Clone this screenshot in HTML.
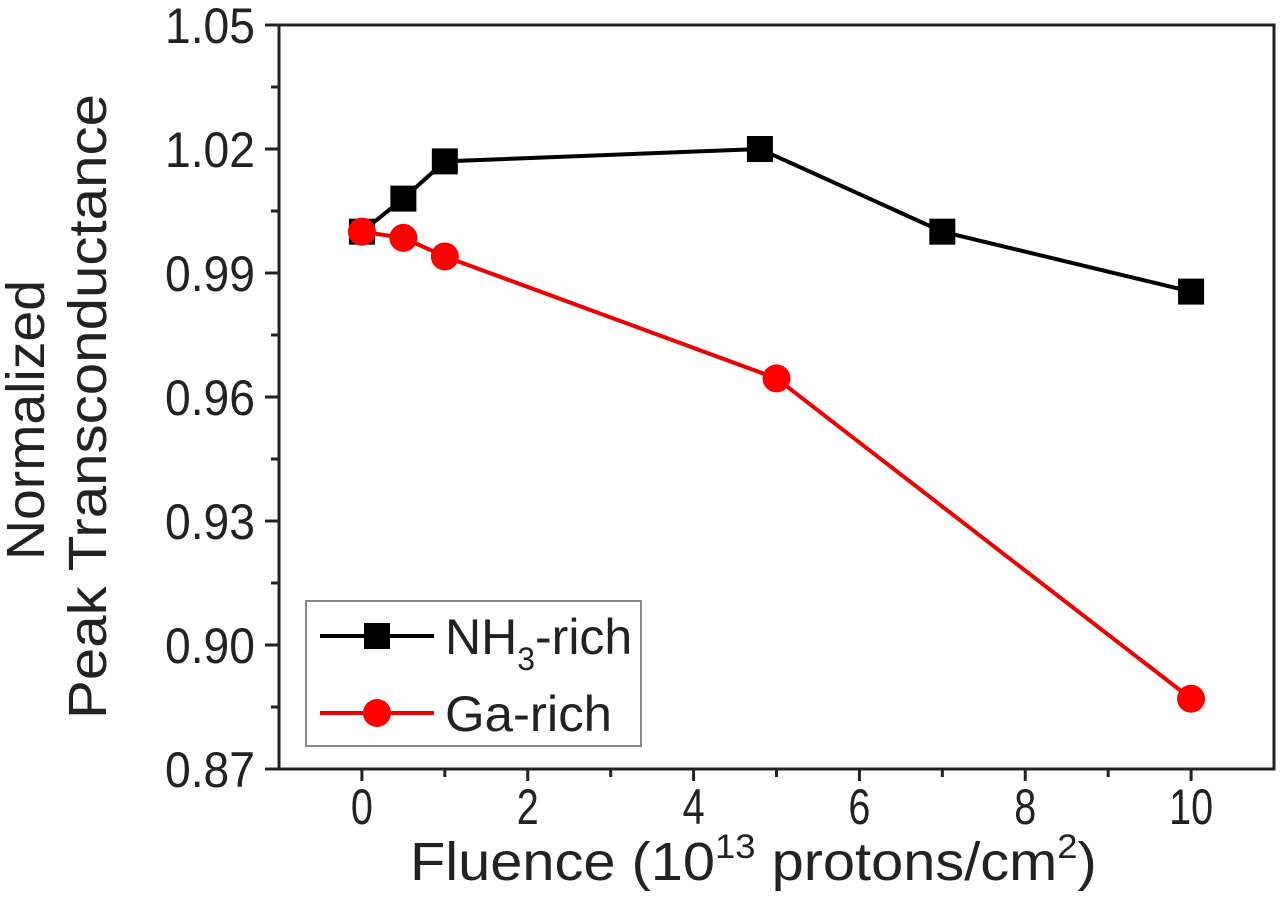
<!DOCTYPE html>
<html><head><meta charset="utf-8"><style>
html,body{margin:0;padding:0;background:#fff;}
svg{display:block;font-family:"Liberation Sans",Arial,sans-serif;}
</style></head><body>
<svg id="chart" width="1280" height="900" viewBox="0 0 1280 900">
<g id="axes"></g>
<g id="series"></g>
<g>
<rect x="306" y="601" width="335" height="145" fill="#fff" stroke="#888" stroke-width="2"/>
<g>
<line x1="320" y1="636" x2="434" y2="636" stroke="#000" stroke-width="4"/>
<rect x="364" y="623" width="26" height="26" fill="#000"/>
<text x="445" y="654" font-size="50" fill="#222">NH<tspan font-size="32" dy="16">3</tspan><tspan dy="-16">-rich</tspan></text>
</g>
<g>
<line x1="320" y1="713" x2="434" y2="713" stroke="#e00" stroke-width="4"/>
<circle cx="377" cy="713" r="14" fill="#f00"/>
<text x="445" y="731" font-size="50" fill="#222" textLength="167" lengthAdjust="spacingAndGlyphs">Ga-rich</text>
</g>
</g>
<g transform="translate(410,880) scale(1.07,1)">
<text x="0" y="0" font-size="54" fill="#222">Fluence (10<tspan font-size="34" dy="-22">13</tspan><tspan dy="22"> protons/cm</tspan><tspan font-size="34" dy="-22">2</tspan><tspan dy="22">)</tspan></text>
</g>
<g transform="translate(44,420) rotate(-90)">
<text x="-140" y="0" font-size="54" fill="#222" textLength="280" lengthAdjust="spacingAndGlyphs">Normalized</text>
</g>
<g transform="translate(106,407) rotate(-90)">
<text x="-312" y="0" font-size="54" fill="#222" textLength="625" lengthAdjust="spacingAndGlyphs">Peak Transconductance</text>
</g>
</svg>
<script>
const xTicks=[0,2,4,6,8,10];
const xMinor=[1,3,5,7,9];
const yTicks=[0.87,0.90,0.93,0.96,0.99,1.02,1.05];
const yTickLabels=["0.87","0.90","0.93","0.96","0.99","1.02","1.05"];
const nh3X=[0,0.5,1,4.8,7,10];
const nh3Y=[1.0,1.008,1.017,1.02,1.0,0.9855];
const gaX=[0,0.5,1,5,10];
const gaY=[1.0,0.9985,0.994,0.9645,0.887];
const L=279,R=1274,T=25,B=769,xmin=-1,xmax=11,ymin=0.87,ymax=1.05;
const sx=v=>L+(v-xmin)/(xmax-xmin)*(R-L);
const sy=v=>B-(v-ymin)/(ymax-ymin)*(B-T);
const NS="http://www.w3.org/2000/svg";
function mk(tag,attrs,parent){const e=document.createElementNS(NS,tag);for(const k in attrs)e.setAttribute(k,attrs[k]);parent.appendChild(e);return e;}
const ax=document.getElementById('axes');
const frame=mk('rect',{x:L,y:T,width:R-L,height:B-T,fill:'none',stroke:'#222','stroke-width':3},ax);


xTicks.forEach(v=>{
 const t=mk('line',{x1:sx(v),x2:sx(v),y1:B,y2:B+12,stroke:'#222','stroke-width':3},ax);
 
 
 const s=String(v);
 const l=mk('text',{x:sx(v),y:824,'font-size':50,'text-anchor':'middle',fill:'#222',textLength:s.length*22,lengthAdjust:'spacingAndGlyphs'},ax);
 l.textContent=s;
 
 
});
xMinor.forEach(v=>{
 const t=mk('line',{x1:sx(v),x2:sx(v),y1:B,y2:B+8,stroke:'#222','stroke-width':3},ax);
 
 
});
yTicks.forEach((v,i)=>{
 const t=mk('line',{x1:L-14,x2:L,y1:sy(v),y2:sy(v),stroke:'#222','stroke-width':3},ax);
 
 
 const l=mk('text',{x:255,y:sy(v)+18,'font-size':50,'text-anchor':'end',fill:'#222',textLength:90,lengthAdjust:'spacingAndGlyphs'},ax);
 l.textContent=yTickLabels[i];
 
 
 if(i<yTicks.length-1){
  const m=mk('line',{x1:L-8,x2:L,y1:sy(v+0.015),y2:sy(v+0.015),stroke:'#222','stroke-width':3},ax);
  
  
 }
});
const se=document.getElementById('series');
const p1=mk('polyline',{points:nh3X.map((x,i)=>sx(x)+','+sy(nh3Y[i])).join(' '),fill:'none',stroke:'#000','stroke-width':4},se);


const p2=mk('polyline',{points:gaX.map((x,i)=>sx(x)+','+sy(gaY[i])).join(' '),fill:'none',stroke:'#e00','stroke-width':4},se);


nh3X.forEach((x,i)=>{
 const r=mk('rect',{x:sx(x)-13,y:sy(nh3Y[i])-13,width:26,height:26,fill:'#000'},se);
 
 
});
gaX.forEach((x,i)=>{
 const c=mk('circle',{cx:sx(x),cy:sy(gaY[i]),r:14,fill:'#f00'},se);
 
 
});
</script>
</body></html>
